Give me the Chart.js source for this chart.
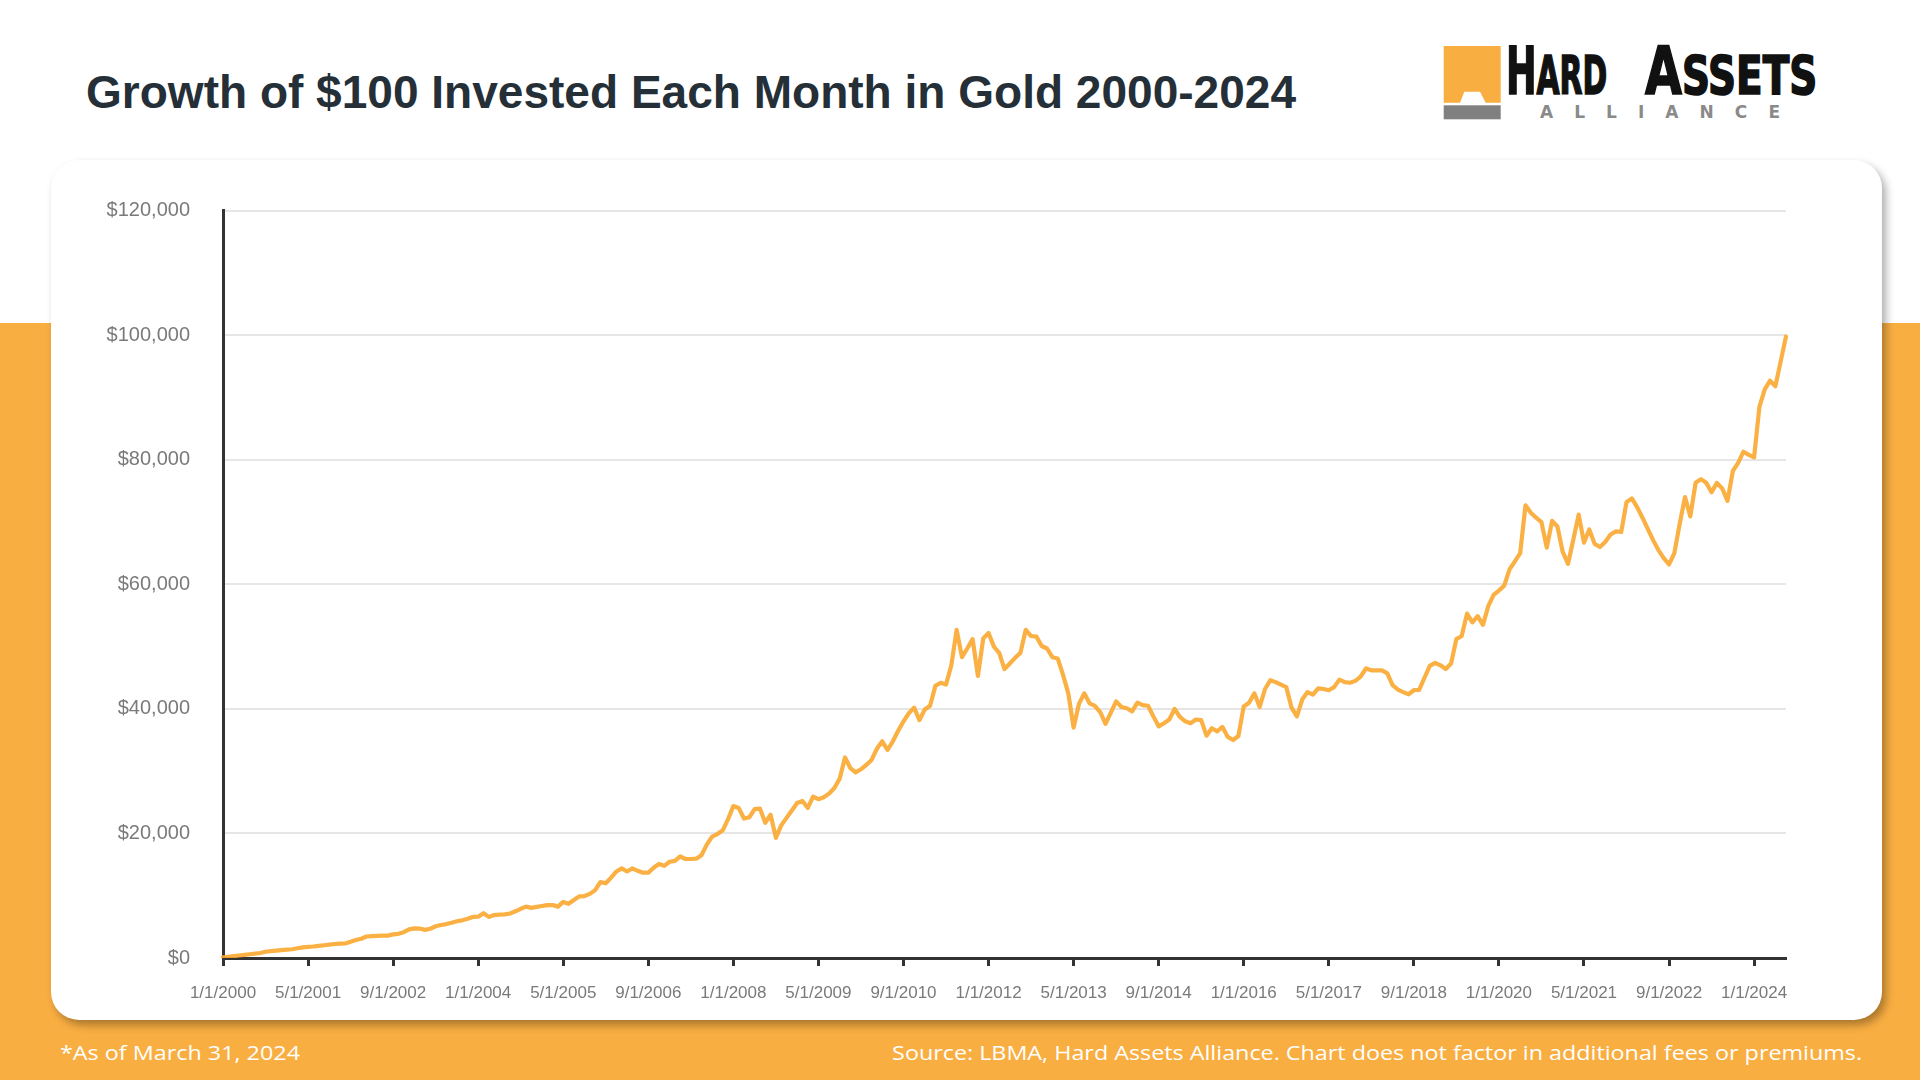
<!DOCTYPE html>
<html><head><meta charset="utf-8">
<script src="https://cdn.jsdelivr.net/npm/chart.js@4.4.1/dist/chart.umd.min.js"></script>
<style>
html,body{margin:0;padding:0;width:1920px;height:1080px;overflow:hidden;background:#fff;}
#band{position:absolute;left:0;top:323px;width:1920px;height:757px;background:#F9AE42;}
#card{position:absolute;left:51px;top:160px;width:1831px;height:860px;background:#fff;border-radius:28px;box-shadow:4px 5px 9px rgba(0,0,0,0.32);}
#title{position:absolute;left:86px;top:69px;font:bold 46px "Liberation Sans",Arial,sans-serif;line-height:46px;color:#252f37;white-space:nowrap;transform-origin:0 0;}
.foot{position:absolute;top:1041px;font:20px "Open Sans",sans-serif;line-height:24px;color:#fff;white-space:nowrap;}
#note{left:60px;transform-origin:0 0;}
#src{right:57.6px;transform-origin:100% 0;}
#logo{position:absolute;left:0;top:0;}
#wrap{position:absolute;left:0;top:0;width:1920px;height:1080px;}
</style></head><body>
<div id="band"></div>
<div id="card"></div>
<div id="title">Growth of $100 Invested Each Month in Gold 2000-2024</div>
<svg id="logo" width="1920" height="130" viewBox="0 0 1920 130">
  <path d="M1443.7 46 H1500.7 V102.7 H1485.7 L1480 91.7 H1464.3 L1460 102.7 H1443.7 Z" fill="#F9AE42"/>
  <rect x="1443.7" y="105.3" width="57" height="14" fill="#808080"/>
  <text x="1506" y="94" font-family="DejaVu Sans Condensed, DejaVu Sans, sans-serif" font-weight="bold" textLength="101.3" lengthAdjust="spacingAndGlyphs" fill="#111" stroke="#111" stroke-width="1.6"><tspan font-size="65">H</tspan><tspan font-size="53">ARD</tspan></text>
  <text x="1645" y="94" font-family="DejaVu Sans Condensed, DejaVu Sans, sans-serif" font-weight="bold" textLength="172.3" lengthAdjust="spacingAndGlyphs" fill="#111" stroke="#111" stroke-width="1.6"><tspan font-size="65">A</tspan><tspan font-size="53">SSETS</tspan></text>
  <text x="1540" y="118.3" font-family="DejaVu Sans, sans-serif" font-weight="bold" font-size="17" textLength="240" lengthAdjust="spacing" fill="#8a8a8a">ALLIANCE</text>
</svg>
<div class="foot" id="note">*As of March 31, 2024</div>
<div class="foot" id="src">Source: LBMA, Hard Assets Alliance. Chart does not factor in additional fees or premiums.</div>
<div id="wrap"><canvas id="c" width="1920" height="1080"></canvas></div>
<script>
// ---- data ----
const startYear = 2000;
const monthCount = 295;
const tickLabels = ['1/1/2000','5/1/2001','9/1/2002','1/1/2004','5/1/2005','9/1/2006','1/1/2008','5/1/2009','9/1/2010','1/1/2012','5/1/2013','9/1/2014','1/1/2016','5/1/2017','9/1/2018','1/1/2020','5/1/2021','9/1/2022','1/1/2024'];
const tickEvery = 16;
const yTicks = [0, 20000, 40000, 60000, 80000, 100000, 120000];
const values = [
100,200,300,400,490,600,690,800,1000,1100,1180,1270,1330,1400,1560,1700,1780,1850,1950,2050,
2150,2250,2300,2330,2600,2900,3100,3450,3520,3550,3580,3600,3800,3880,4150,4600,4760,4730,4520,4700,
5100,5300,5450,5650,5900,6050,6300,6600,6620,7200,6600,6900,6950,7000,7150,7500,7900,8250,8050,8200,
8350,8500,8500,8250,9000,8700,9300,9900,9950,10300,10900,12200,12000,12900,13900,14400,13900,14400,14000,13700,
13700,14500,15100,14800,15450,15600,16300,15900,15900,15950,16500,18200,19500,19900,20500,22300,24400,24100,22400,22600,
23900,24000,21700,23000,19300,21300,22500,23700,24900,25200,24100,25900,25500,25800,26400,27300,28800,32200,30500,29800,
30300,31000,31800,33600,34800,33400,34800,36500,38000,39300,40200,38200,39900,40500,43700,44200,43900,47000,52700,48300,
49700,51200,45300,51300,52200,50000,49000,46400,47300,48200,49000,52700,51700,51600,50100,49700,48300,48100,45500,42500,
37000,40800,42500,40900,40500,39500,37600,39400,41200,40300,40100,39600,41000,40600,40500,38800,37200,37700,38300,40000,
38700,38000,37700,38300,38200,35700,36900,36400,37100,35500,35000,35650,40400,41000,42500,40300,43200,44600,44300,43900,
43500,40200,38800,41500,42700,42300,43300,43200,43000,43500,44700,44300,44200,44500,45200,46500,46200,46200,46200,45700,
43800,43100,42700,42350,43000,43050,45000,46900,47400,47000,46400,47300,51200,51700,55300,53900,54900,53500,56500,58300,
59000,59800,62400,63700,65000,72700,71500,70700,70000,65900,70200,69300,65200,63300,67200,71200,66700,68800,66500,66000,
66800,68000,68500,68400,73200,73800,72400,70700,68900,67100,65500,64200,63200,65000,69700,74000,70900,76300,76900,76300,
74800,76300,75400,73400,78200,79500,81300,80800,80400,88500,91300,92700,91800,95800,99800
];
const categories = [];
for (let i = 0; i < monthCount; i++) {
  const m = i % 12 + 1, y = startYear + Math.floor(i / 12);
  categories.push(m + '/1/' + y);
}

// ---- text fitting ----
function fitWidth(id, target) {
  const el = document.getElementById(id);
  const w = el.getBoundingClientRect().width;
  el.style.transform = 'scaleX(' + (target / w) + ')';
}
fitWidth('title', 1210);
fitWidth('note', 240);
fitWidth('src', 970);

// ---- chart ----
const ctx = document.getElementById('c').getContext('2d');
new Chart(ctx, {
  type: 'line',
  data: {
    labels: categories,
    datasets: [{
      data: values,
      borderColor: 'rgba(250,167,45,0.9)',
      borderWidth: 4.2,
      pointRadius: 0,
      tension: 0,
      borderJoinStyle: 'round',
      borderCapStyle: 'round',
      fill: false
    }]
  },
  options: {
    responsive: false,
    animation: false,
    devicePixelRatio: 1,
    layout: { padding: { left: 100, right: 134, top: 210.7, bottom: 0 } },
    plugins: { legend: { display: false }, tooltip: { enabled: false } },
    scales: {
      x: {
        type: 'category',
        afterBuildTicks: s => { s.ticks = s.ticks.filter(t => t.value % tickEvery === 0); },
        grid: {
          drawOnChartArea: false,
          drawTicks: true,
          tickLength: 8,
          tickWidth: 3,
          color: '#333333',
          tickColor: '#333333'
        },
        border: { display: true, color: '#333333', width: 3 },
        ticks: {
          autoSkip: false, maxRotation: 0, minRotation: 0, padding: 17,
          color: '#7a7a7a',
          font: { family: '"Liberation Sans", Arial, sans-serif', size: 17 },
          callback: v => tickLabels[v / tickEvery]
        },
        afterFit: s => { s.height = 122; }
      },
      y: {
        min: yTicks[0], max: yTicks[yTicks.length - 1],
        afterBuildTicks: s => { s.ticks = yTicks.map(v => ({ value: v })); },
        ticks: {
          padding: 33,
          color: '#7a7a7a',
          font: { family: '"Liberation Sans", Arial, sans-serif', size: 20 },
          callback: v => '$' + v.toLocaleString('en-US')
        },
        grid: {
          drawTicks: false,
          lineWidth: 2,
          color: c => (c.tick && c.tick.value === 0 ? 'rgba(0,0,0,0)' : '#e6e6e6')
        },
        border: { display: true, color: '#333333', width: 3 },
        afterFit: s => { s.width = 123; }
      }
    }
  }
});
</script>
</body></html>
